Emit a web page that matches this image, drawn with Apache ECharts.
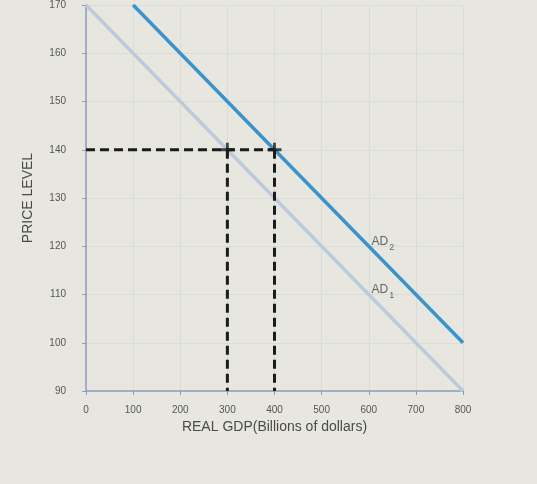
<!DOCTYPE html>
<html>
<head>
<meta charset="utf-8">
<script src="https://cdn.jsdelivr.net/npm/echarts@6/dist/echarts.min.js"></script>
<style>
  html, body { margin: 0; padding: 0; background: #e7e7df; }
  #chart { width: 537px; height: 484px; }
</style>
</head>
<body>
<div id="chart"></div>
<script>
// curves: [real GDP, price level]
const ad1 = [[0, 170], [800, 90]];
const ad2 = [[100, 170], [800, 100]];
const hDash = [[0, 140], [400, 140]];
const vDash300 = [[300, 140], [300, 90]];
const vDash400 = [[400, 140], [400, 90]];
const crossPoints = [[300, 140], [400, 140]];
const curveLabels = [
  { name: 'AD', sub: '2', at: [606, 121] },
  { name: 'AD', sub: '1', at: [606, 111] },
];

const chart = echarts.init(document.getElementById('chart'));

const axisColor = '#8c9dc2';
const dashStyle = { color: '#1b1b1b', width: 3, type: [9, 5] };
const plus = 'path://M4,0 L6,0 L6,4 L10,4 L10,6 L6,6 L6,10 L4,10 L4,6 L0,6 L0,4 L4,4 Z';

const option = {
  backgroundColor: '#e7e7df',
  animation: false,
  textStyle: { fontFamily: 'Liberation Sans, Arial, sans-serif' },
  grid: { left: 86, right: 74, top: 5, bottom: 93 },
  xAxis: {
    type: 'value',
    min: 0,
    max: 800,
    interval: 100,
    name: 'REAL GDP(Billions of dollars)',
    nameLocation: 'middle',
    nameGap: 28,
    nameTextStyle: { color: '#4a4a4a', fontSize: 14 },
    axisLine: { lineStyle: { color: axisColor, width: 1.5 } },
    axisTick: { show: true, length: 4, lineStyle: { color: axisColor } },
    axisLabel: { color: '#555', fontSize: 10, margin: 14 },
    splitLine: { lineStyle: { color: '#dadcdc', width: 1 } },
  },
  yAxis: {
    type: 'value',
    min: 90,
    max: 170,
    interval: 10,
    name: 'PRICE LEVEL',
    nameLocation: 'middle',
    nameGap: 51,
    nameRotate: 90,
    nameTextStyle: { color: '#4a4a4a', fontSize: 14 },
    axisLine: { show: true, lineStyle: { color: axisColor, width: 1.5 } },
    axisTick: { show: true, length: 4, lineStyle: { color: axisColor } },
    axisLabel: { color: '#555', fontSize: 10, margin: 20 },
    splitLine: { lineStyle: { color: '#dadcdc', width: 1 } },
  },
  series: [
    {
      type: 'line',
      data: ad1,
      symbol: 'none',
      lineStyle: { color: '#bccadb', width: 3.5 },
      z: 2,
    },
    {
      type: 'line',
      data: ad2,
      symbol: 'none',
      lineStyle: { color: '#3b93cb', width: 3.5 },
      z: 3,
    },
    { type: 'line', data: hDash, symbol: 'none', lineStyle: dashStyle, z: 4 },
    { type: 'line', data: vDash300, symbol: 'none', lineStyle: dashStyle, z: 4 },
    { type: 'line', data: vDash400, symbol: 'none', lineStyle: dashStyle, z: 4 },
    {
      type: 'scatter',
      data: crossPoints,
      symbol: plus,
      symbolSize: 14,
      itemStyle: { color: '#1b1b1b' },
      z: 5,
    },
    {
      type: 'scatter',
      data: curveLabels.map((l) => ({ value: l.at, name: l.name, sub: l.sub })),
      symbolSize: 0,
      z: 6,
      label: {
        show: true,
        position: 'right',
        distance: 0,
        formatter: (p) => '{a|' + p.data.name + '}{s|' + p.data.sub + '}',
        rich: {
          a: { fontSize: 12, color: '#444' },
          s: { fontSize: 9, color: '#444', padding: [12, 0, 0, 1] },
        },
      },
    },
  ],
};

chart.setOption(option);
</script>
</body>
</html>
